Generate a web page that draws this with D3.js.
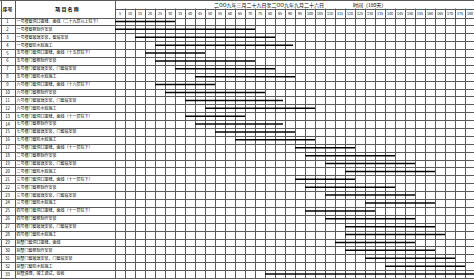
<!DOCTYPE html>
<html lang="zh">
<head>
<meta charset="utf-8">
<title>施工进度计划横道图</title>
<script src="https://d3js.org/d3.v7.min.js"></script>
<style type="text/css">
  body { margin: 0; background: white; }
  svg { display: block; }
  text { font-family: "Noto Sans CJK SC", "DejaVu Sans", sans-serif; fill: #000; }
</style>
</head>
<body>
<svg></svg>
<script type="text/javascript">

const taskNames = [
  "一号楼窗洞口塞缝、面线（二十九层以上往下）",
  "一号楼窗框制作安装",
  "一号楼窗玻璃安装，窗扇安装",
  "一号楼窗防水胶施工",
  "五号楼门窗洞口塞缝，面线（十五层往下）",
  "五号楼门窗框制作安装",
  "五号楼门窗玻璃安装，门窗扇安装",
  "五号楼门窗防水胶施工",
  "六号楼门窗洞口塞缝，面线（十六层往下）",
  "六号楼门窗框制作安装",
  "六号楼门窗玻璃安装，门窗扇安装",
  "六号楼门窗防水胶施工",
  "七号楼门窗洞口塞缝，面线（十一层往下）",
  "七号楼门窗框制作安装",
  "七号楼门窗玻璃安装，门窗扇安装",
  "七号楼门窗防水胶施工",
  "二号楼门窗洞口塞缝，面线（十一层往下）",
  "二号楼门窗框制作安装",
  "二号楼门窗玻璃安装，门窗扇安装",
  "二号楼门窗防水胶施工",
  "三号楼门窗洞口塞缝，面线（十一层往下）",
  "三号楼门窗框制作安装",
  "三号楼门窗玻璃安装，门窗扇安装",
  "三号楼门窗防水胶施工",
  "四号楼门窗洞口塞缝，面线（十一层往下）",
  "四号楼门窗框制作安装",
  "四号楼门窗玻璃安装，门窗扇安装",
  "四号楼门窗防水胶施工",
  "别墅门窗洞口塞缝，面线",
  "别墅门窗框制作安装",
  "别墅门窗玻璃安装，门窗扇安装",
  "别墅门窗防水胶施工",
  "别墅清理，竣工调试，验收"
];

// start / end day of each task
const startDays = [0, 0, 10, 20, 15, 20, 30, 40, 20, 25, 35, 45, 35, 40, 50, 60, 90,
                   95, 105, 115, 90, 95, 105, 125, 95, 105, 115, 115, 110, 115, 125, 135, 75];
const endDays   = [30, 70, 80, 89, 45, 70, 80, 90, 50, 75, 84, 100, 65, 84, 90, 100, 120,
                   140, 150, 160, 120, 140, 150, 160, 130, 150, 160, 165, 150, 160, 170, 175, 180];

const dayTicks = [5, 10, 15, 20, 25, 30, 35, 40, 45, 50, 55, 60, 65, 70, 75, 80, 85, 90,
                  95, 100, 105, 110, 115, 120, 125, 130, 135, 140, 145, 150, 155, 160, 165, 170, 175, 180];

const titleText = "二OO九年三月二十九日至二OO九年九月二十六日";
const durationText = "时间（180天）";

const width = 474, height = 279;
const colNo = 15, colName = 115, headMid = 8.5, headBottom = 17.5, bottom = 278;
const gridColor = "#5a5a5a";

const svg = d3.select("svg")
  .attr("width", width)
  .attr("height", height);

const x = d3.scaleLinear().domain([0, 180]).range([colName, colName + 360]);
const y = d3.scaleBand().domain(d3.range(taskNames.length)).range([headBottom, bottom]);

const crisp = v => Math.round(v) + 0.5;

// grid - vertical
const grid = svg.append("g").attr("stroke", gridColor).attr("stroke-width", 1);
[0.5, colNo, colName].forEach(v => {
  grid.append("line")
    .attr("x1", crisp(v)).attr("x2", crisp(v))
    .attr("y1", 0).attr("y2", bottom);
});
grid.selectAll(".vday")
  .data(dayTicks)
  .enter()
  .append("line")
  .attr("x1", d => crisp(x(d))).attr("x2", d => crisp(x(d)))
  .attr("y1", headMid).attr("y2", bottom);

// grid - horizontal
grid.append("line").attr("x1", 0).attr("x2", width).attr("y1", 0.5).attr("y2", 0.5);
grid.append("line").attr("x1", colName).attr("x2", width)
  .attr("y1", crisp(headMid)).attr("y2", crisp(headMid));
grid.selectAll(".hrow")
  .data(d3.range(taskNames.length + 1))
  .enter()
  .append("line")
  .attr("x1", 0).attr("x2", width)
  .attr("y1", d => crisp(headBottom + d * y.bandwidth()))
  .attr("y2", d => crisp(headBottom + d * y.bandwidth()));

// header
svg.append("text")
  .attr("x", colNo / 2).attr("y", headBottom / 2)
  .attr("dy", "0.35em")
  .attr("text-anchor", "middle")
  .attr("font-size", "5px")
  .attr("font-weight", "bold")
  .text("序号");

svg.append("text")
  .attr("x", (colNo + colName) / 2 + 2).attr("y", headBottom / 2)
  .attr("dy", "0.35em")
  .attr("text-anchor", "middle")
  .attr("font-size", "5px")
  .attr("font-weight", "bold")
  .text("项 目 名 称");

svg.append("text")
  .attr("x", 269).attr("y", headMid / 2 + 0.5)
  .attr("dy", "0.35em")
  .attr("text-anchor", "middle")
  .attr("font-size", "5px")
  .text(titleText);

svg.append("text")
  .attr("x", 353).attr("y", headMid / 2 + 0.5)
  .attr("dy", "0.35em")
  .attr("font-size", "5px")
  .text(durationText);

svg.selectAll(".tick")
  .data(dayTicks)
  .enter()
  .append("text")
  .attr("x", d => x(d) - 5)
  .attr("y", (headMid + headBottom) / 2 + 0.5)
  .attr("dy", "0.35em")
  .attr("text-anchor", "middle")
  .attr("font-size", "3.6px")
  .text(d => d);

// rows
const rows = svg.selectAll(".row")
  .data(taskNames)
  .enter()
  .append("g")
  .attr("transform", (d, i) => "translate(0," + (y(i) + y.bandwidth() / 2) + ")");

rows.append("text")
  .attr("x", colNo / 2)
  .attr("dy", "0.35em")
  .attr("text-anchor", "middle")
  .attr("font-size", "4.2px")
  .text((d, i) => i + 1);

rows.append("text")
  .attr("x", colNo + 1.5)
  .attr("dy", "0.35em")
  .attr("font-size", "4px")
  .text(d => d);

// bars
rows.append("line")
  .attr("x1", (d, i) => x(startDays[i]))
  .attr("x2", (d, i) => x(endDays[i]))
  .attr("stroke", "#000")
  .attr("stroke-width", 1.5);

</script>
</body>
</html>
